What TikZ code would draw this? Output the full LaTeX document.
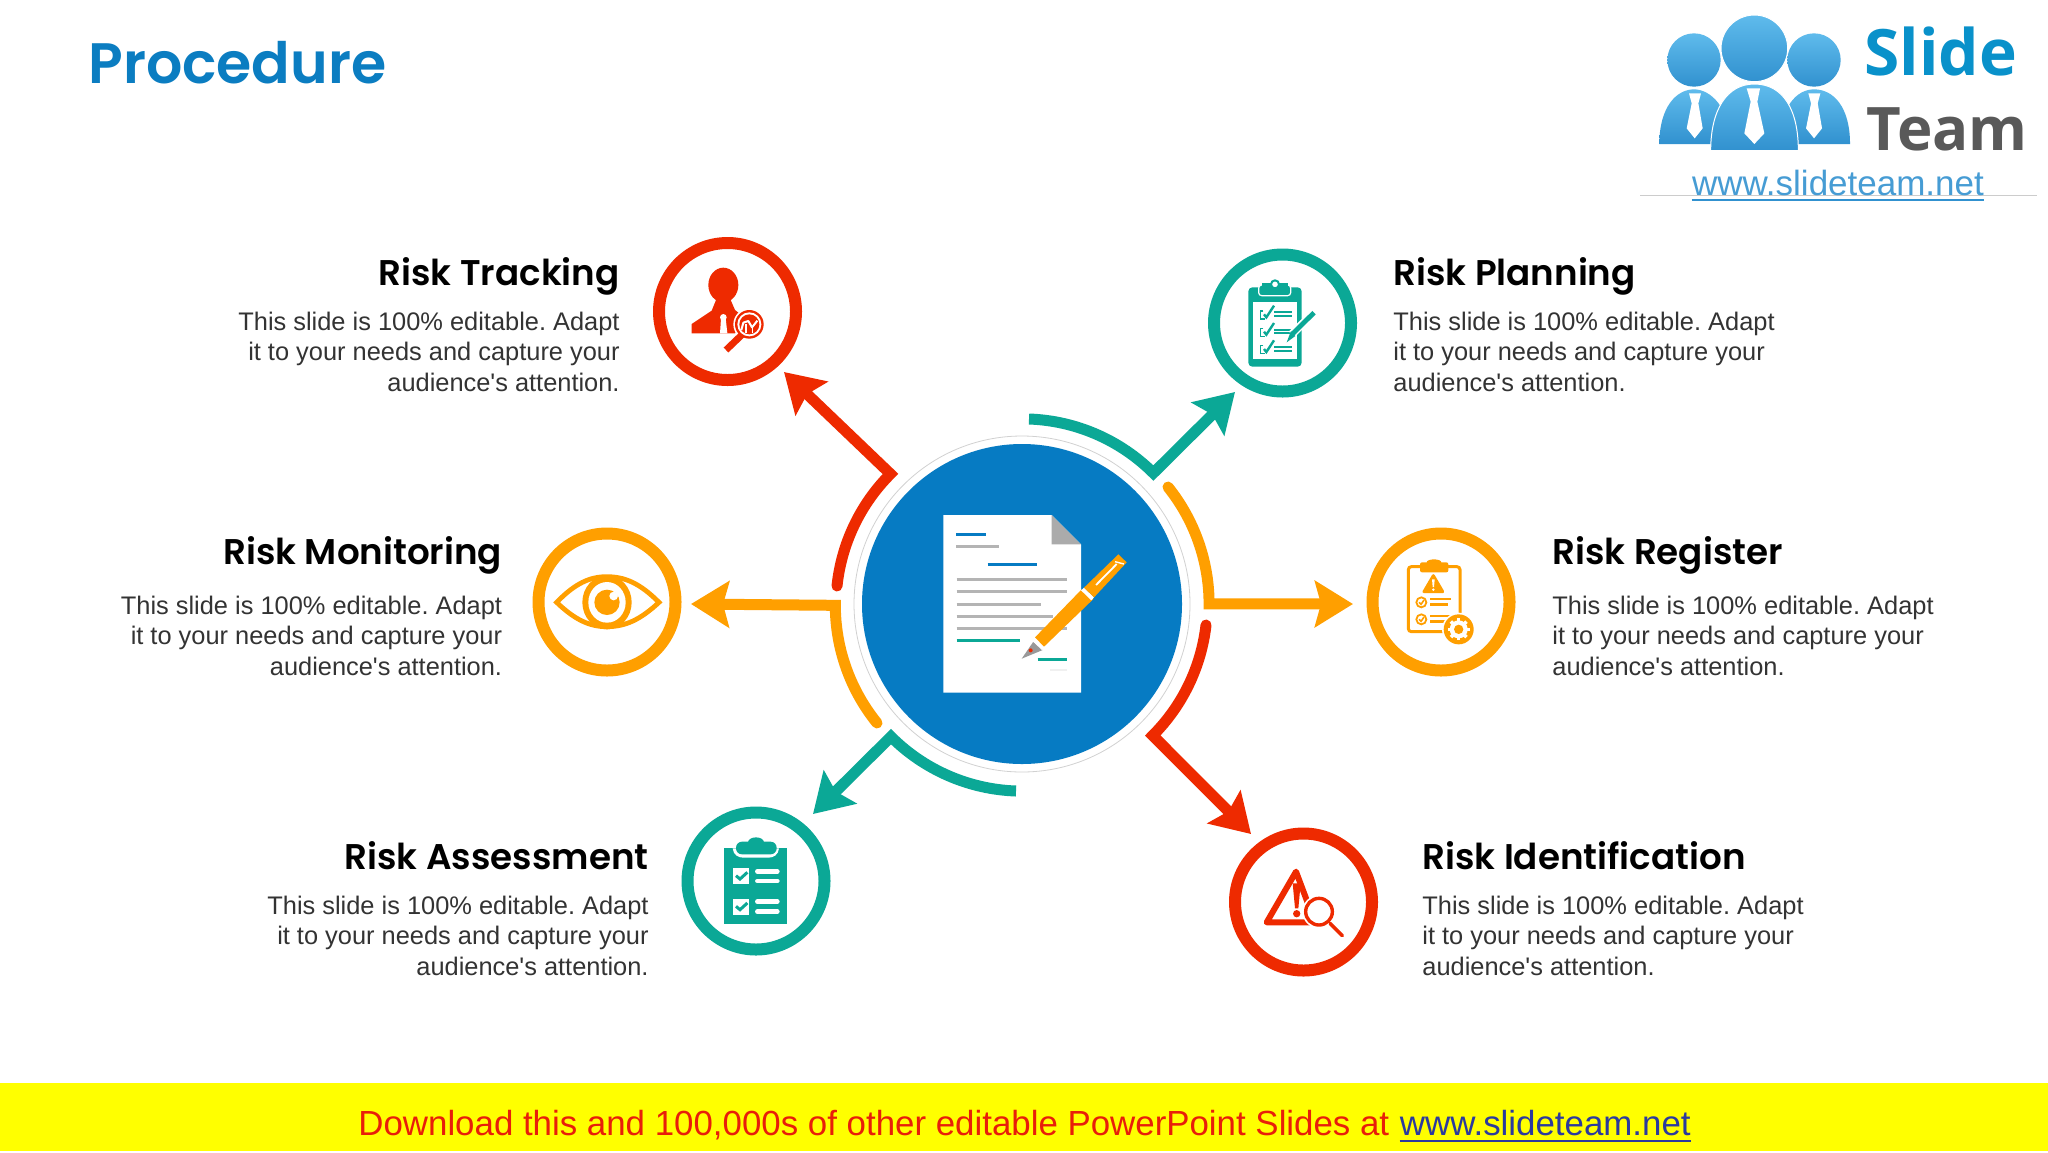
\documentclass[tikz,border=0pt]{standalone}
\usepackage{fontspec}
\setmainfont{Liberation Sans}
\newfontfamily\bodyfont{Liberation Sans}
\newfontfamily\headfont[UprightFont=* SemiBold,BoldFont=* SemiBold]{Poppins}
\newfontfamily\logofont{Open Sans}
\usetikzlibrary{arrows.meta}
\definecolor{rd}{HTML}{EE2A00}
\definecolor{tl}{HTML}{0BA896}
\definecolor{og}{HTML}{FF9F00}
\definecolor{hubblue}{HTML}{067BC3}
\definecolor{titleblue}{HTML}{0B7DC1}
\definecolor{linegray}{HTML}{B4B4B4}
\definecolor{logoA}{HTML}{5FBBEC}
\definecolor{logoB}{HTML}{3191CF}
\definecolor{footlink}{HTML}{2B3A9E}
\definecolor{footband}{HTML}{FFFF00}
\definecolor{footred}{HTML}{E81E0A}
\tikzset{
  ring/.style={circle,draw=#1,line width=6pt,minimum size=68.5pt,inner sep=0pt,fill=white},
  link/.style={line width=5.5pt,draw=#1,line join=miter,
     -{Stealth[length=19pt,width=23pt,inset=3pt]}},
  head/.style={font=\headfont\fontsize{17.85}{22}\selectfont,text=black,inner sep=0pt},
  bodyR/.style={font=\bodyfont\frenchspacing\fontsize{12.7}{15.35}\selectfont,text=black!80,align=right,anchor=base east,inner sep=0pt},
  bodyL/.style={font=\bodyfont\frenchspacing\fontsize{12.7}{15.35}\selectfont,text=black!80,align=left,anchor=base west,inner sep=0pt},
  zoomed/.style={shift={#1},x=0.16667pt,y=-0.16667pt},
  docl/.style={line width=1.5pt,draw=#1},
}
\newcommand{\blurb}{This slide is 100\% editable. Adapt\\it to your needs and capture your\\audience's attention.}
\begin{document}
\begin{tikzpicture}[x=0.5pt,y=-0.5pt]
\useasboundingbox (0,0) rectangle (2048,1152);
\fill[white] (0,0) rectangle (2048,1152);

% title
\node[anchor=base west,inner sep=0pt,text=titleblue,font=\headfont\fontsize{28.5}{32}\selectfont] (title) at (88,83) {Procedure};

% logo
\begin{scope}[zoomed={(1620,0)}]
\draw[black!20,line width=0.3pt] (60,586) -- (1250,586);
\shade[top color=logoA,bottom color=logoB] (118,432) .. controls (118,320) and (170,268) .. (222,268) .. controls (270,268) and (330,320) .. (330,432) -- cycle;
\shade[top color=logoA,bottom color=logoB] (690,432) .. controls (690,320) and (640,268) .. (582,268) .. controls (530,268) and (480,320) .. (480,432) -- cycle;
\shade[top color=logoA,bottom color=logoB] (222,180) circle (80);
\shade[top color=logoA,bottom color=logoB] (582,180) circle (80);
\shadedraw[top color=logoA,bottom color=logoB,draw=white,line width=0.5pt] (403,145) circle (100);
\shadedraw[top color=logoA,bottom color=logoB,draw=white,line width=0.5pt] (272,452) .. controls (272,330) and (320,252) .. (403,252) .. controls (490,252) and (535,330) .. (535,452) -- cycle;
\fill[white] (380,265)--(420,265)--(412,305)--(433,400)--(403,432)--(373,400)--(392,305)--cycle;
\fill[white] (207,280)--(243,280)--(235,310)--(248,385)--(224,415)--(200,385)--(215,310)--cycle;
\fill[white] (565,280)--(601,280)--(593,310)--(606,385)--(582,415)--(558,385)--(573,310)--cycle;
\node[anchor=base west,inner sep=0pt,text=titleblue!85!cyan,font=\logofont\fontsize{32}{36}\selectfont\bfseries] (slide) at (732,225) {Slide};
\node[anchor=base west,inner sep=0pt,text=black!65,font=\logofont\fontsize{30}{34}\selectfont\bfseries] (team) at (738,452) {Team};
\node[anchor=base west,inner sep=0pt,text=logoB!90!white,font=\fontsize{17.5}{20}\selectfont] (url) at (215,585) {www.slideteam.net};
\draw[logoB,line width=0.8pt] ([yshift=-2.5pt]url.base west) -- ([yshift=-2.5pt]url.base east);
\end{scope}

% hub
\node[circle,draw=black!18,line width=0.4pt,minimum size=168pt,inner sep=0pt] (halo) at (1022,604) {};
\node[circle,fill=hubblue,minimum size=160pt,inner sep=0pt] (hub) at (1022,604) {};

% document icon
\begin{scope}[zoomed={(820,400)}]
\fill[white] (370,345)--(695,345)--(783,433)--(783,878)--(370,878)--cycle;
\fill[black!33] (695,345)--(783,433)--(695,433)--cycle;
\draw[docl=hubblue] (408,402)--(497,402) (503,493)--(650,493);
\draw[docl=linegray] (408,438)--(538,438) (410,539)--(742,539) (410,575)--(742,575) (410,612)--(663,612) (410,649)--(700,649) (410,686)--(742,686);
\draw[docl=tl] (410,722)--(600,722) (653,777)--(742,777);
\draw[line width=1pt,black!6] (690,810)--(742,810);
% pen
\fill[black!40] (605,776)--(640,725)--(668,750)--cycle;
\fill[white] (636,722)--(650,706)--(682,735)--(666,750)--cycle;
\fill[og] (645,712)--(785,568)--(820,597)--(672,740)--cycle;
\fill[white] (783,571)--(792,563)--(822,592)--(814,601)--cycle;
\fill[og] (792,563)--(895,463)--(920,487)--(822,592)--cycle;
\draw[white,line width=0.9pt] (828,555)--(890,492);
\draw[white,line width=0.7pt] (885,485)--(912,492);
\fill[rd] (632,751) circle (6);
\end{scope}

% icon rings
\node[ring=rd] (track) at (727.5,311.5) {};
\node[ring=tl] (plan) at (1282.5,323) {};
\node[ring=og] (reg) at (1441,602) {};
\node[ring=rd] (ident) at (1303.5,902) {};
\node[ring=tl] (assess) at (756,881) {};
\node[ring=og] (mon) at (607,602) {};

% connectors
\coordinate (tipP) at (1235,392);
\coordinate (tipR) at (1353,604);
\coordinate (tipI) at (1251,834);
\coordinate (tipA) at (813,814);
\coordinate (tipM) at (691,604);
\coordinate (tipT) at (784,372);
\draw[link=tl] (1029,419) arc (-88:-45:185) -- (tipP);
\draw[link=og,line cap=round] (1168,487) arc (-38.7:0:187) -- (tipR);
\draw[link=rd,line cap=round] (1206,625) arc (6.5:45:186) -- (tipI);
\draw[link=tl] (1016,791) arc (92:135:186) -- (tipA);
\draw[link=og,line cap=round] (877,723) arc (141:180:187) -- (tipM);
\draw[link=rd,line cap=round] (837,586) arc (186:225:186) -- (tipT);

% tracking icon
\begin{scope}[zoomed={(640,220)}]
\fill[rd] (250,195) ellipse (45 and 52);
\fill[rd] (155,340)--(155,312)--(215,272)--(228,240)--(272,240)--(285,270)--(310,290)--(285,340)--cycle;
\fill[white] (250,292) circle (10);
\fill[white] (243,295)--(257,295)--(262,340)--(240,340)--cycle;
\fill[white] (328,313) circle (48);
\draw[rd,line width=3.4pt] (305,345)--(258,390);
\fill[rd] (328,313) circle (43);
\fill[white] (328,313) circle (36);
\fill[rd] (328,313) circle (30);
\draw[white,line width=1pt,line join=round] (304,330)--(310,308)--(325,303)--(336,322)--(352,302);
\draw[white,line width=.6pt] (318,312)--(318,338) (338,322)--(338,338);
\end{scope}

% planning icon
\begin{scope}[zoomed={(1190,235)}]
\fill[tl,rounded corners=2pt] (175,157) rectangle (335,395);
\fill[white] (190,200) rectangle (322,372);
\draw[white,fill=tl,rounded corners=1.5pt,line width=.6pt] (206,182)--(206,150)--(302,150)--(302,182)--cycle;
\fill[tl] (215,145) rectangle (295,176);
\filldraw[tl,fill=white,line width=1pt] (255,148) circle (12);
\foreach \yy in {0,52,104}{
  \draw[tl,line width=.8pt] (220,228+\yy)--(211,228+\yy)--(211,252+\yy)--(225,252+\yy);
  \draw[tl,line width=1.2pt] (222,238+\yy)--(229,247+\yy)--(252,212+\yy);
  \draw[tl,line width=.9pt] (252,232+\yy)--(305,232+\yy) (252,243+\yy)--(305,243+\yy);
}
\draw[white,line width=4pt] (305,298)--(370,235);
\fill[tl] (290,322)--(302,290)--(316,303)--cycle;
\draw[tl,line width=2.4pt] (307,297)--(372,233);
\end{scope}

% register icon
\begin{scope}[zoomed={(1350,515)}]
\draw[og,line width=1.5pt,rounded corners=1.5pt] (175,155) rectangle (330,350);
\fill[og,rounded corners=1pt] (210,142) rectangle (295,172);
\fill[og] (252,142) ellipse (22 and 9);
\draw[og,fill=og,line width=1.5pt,line join=round] (250,182)--(222,230)--(278,230)--cycle;
\fill[white] (246,193)--(254,193)--(252,216)--(248,216)--cycle;
\fill[white] (250,224) circle (4);
\foreach \yy in {0,51}{
 \draw[og,line width=.9pt] (214,262+\yy) circle (15);
 \draw[og,line width=.8pt] (207,262+\yy)--(213,268+\yy)--(222,255+\yy);
}
\draw[og,line width=1.3pt] (240,252)--(303,252) (240,268)--(295,268) (240,303)--(303,303) (240,320)--(290,320);
\fill[white] (326,343) circle (50);
\fill[og] (326,343) circle (45);
\foreach \aa in {0,45,...,315}{\draw[white,line width=1.8pt] (326,343) -- ++(\aa:33);}
\fill[white] (326,343) circle (27);
\fill[og] (326,343) circle (14);
\end{scope}

% identification icon
\begin{scope}[zoomed={(1215,815)}]
\draw[rd,line width=3pt,line join=round] (243,170)--(155,322)--(300,322)--cycle;
\fill[rd] (233,205)--(257,205)--(250,280)--(240,280)--cycle;
\fill[rd] (245,296) circle (11);
\fill[white] (312,290) circle (50);
\draw[rd,line width=1.7pt] (312,290) circle (40);
\draw[rd,line width=1.8pt,line cap=round] (345,325)--(382,362);
\end{scope}

% assessment icon
\begin{scope}[zoomed={(670,795)}]
\fill[tl] (163,160) rectangle (352,387);
\fill[white] (188,160) .. controls (190,180) and (205,188) .. (220,188) -- (295,188) .. controls (310,188) and (325,180) .. (327,160) -- cycle;
\fill[tl,rounded corners=3pt] (198,140) rectangle (320,178);
\fill[tl] (258,142) ellipse (24 and 15);
\fill[white] (190,220) rectangle (238,268);
\fill[white] (190,312) rectangle (238,360);
\draw[tl,line width=1.5pt] (198,242)--(210,252)--(232,232);
\draw[tl,line width=1.5pt] (198,334)--(210,344)--(232,324);
\draw[white,line width=2.3pt,line cap=round] (262,229)--(322,229) (262,258)--(322,258) (262,320)--(322,320) (262,350)--(322,350);
\end{scope}

% monitoring icon
\begin{scope}[zoomed={(525,515)}]
\draw[og,line width=2.4pt,line join=miter] (95,262) .. controls (150,205) and (195,185) .. (245,185) .. controls (300,185) and (345,205) .. (402,262) .. controls (345,315) and (300,335) .. (245,335) .. controls (195,335) and (150,315) .. (95,262) -- cycle;
\fill[og] (246,262) ellipse (74 and 81);
\fill[white] (246,262) ellipse (56 and 61);
\fill[og] (246,262) circle (38);
\fill[white] (266,243) circle (13);
\end{scope}

% labels
\node[head,anchor=base east] (tTrack) at (620,285) {Risk Tracking};
\node[bodyR] (bTrack) at (620,391.4) {\blurb};
\node[head,anchor=base east] (tMon) at (502.5,564) {Risk Monitoring};
\node[bodyR] (bMon) at (502.5,675.4) {\blurb};
\node[head,anchor=base east] (tAss) at (649,869) {Risk Assessment};
\node[bodyR] (bAss) at (649,975.4) {\blurb};
\node[head,anchor=base west] (tPlan) at (1393,285) {Risk Planning};
\node[bodyL] (bPlan) at (1393,391.4) {\blurb};
\node[head,anchor=base west] (tReg) at (1552,564) {Risk Register};
\node[bodyL] (bReg) at (1552,675.4) {\blurb};
\node[head,anchor=base west] (tIdent) at (1422,869) {Risk Identification};
\node[bodyL] (bIdent) at (1422,975.4) {\blurb};

% footer
\fill[footband] (0,1083) rectangle (2048,1151);
\node[anchor=base west,inner sep=0pt,font=\fontsize{17.43}{20}\selectfont,text=footred] (foot) at (358,1135) {Download this and 100,000s of other editable PowerPoint Slides at};
\node[anchor=base east,inner sep=0pt,font=\fontsize{17.43}{20}\selectfont,text=footlink] (footurl) at (1691,1135) {www.slideteam.net};
\draw[footlink,line width=1.2pt] ([yshift=-3pt]footurl.base west) -- ([yshift=-3pt]footurl.base east);
\end{tikzpicture}
\end{document}
